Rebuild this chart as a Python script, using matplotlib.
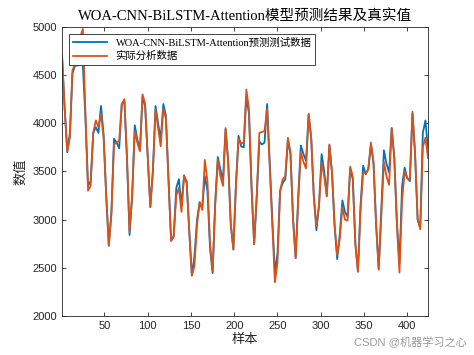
import numpy as np
import matplotlib
matplotlib.use('Agg')
import matplotlib.pyplot as plt

# sample index (every 3rd sample)
sampel = np.arange(1, 425, 3)

aktual = [4700, 4150, 3710, 3850, 4550, 4620, 4640, 4900, 4980, 4100,
          3300, 3350, 3900, 4030, 3960, 4100, 3850, 3250, 2730, 3050,
          3780, 3800, 3820, 4200, 4250, 3650, 2870, 3250, 3920, 3800,
          3710, 4300, 4200, 3650, 3130, 3500, 4140, 3950, 3760, 4150,
          4050, 3400, 2780, 2820, 3250, 3330, 3080, 3450, 3400, 2880,
          2420, 2520, 2950, 3180, 3100, 3620, 3400, 2750, 2460, 3150,
          3620, 3450, 3350, 3950, 3600, 2950, 2690, 3350, 3840, 3790,
          3800, 4350, 4150, 3350, 2745, 3250, 3900, 3910, 3920, 4150,
          3550, 2950, 2350, 2550, 3300, 3420, 3450, 3850, 3700, 3000,
          2600, 3200, 3700, 3600, 3530, 4100, 3850, 3250, 2930, 3150,
          3590, 3450, 3240, 3780, 3500, 2950, 2630, 2800, 3130, 3000,
          2990, 3550, 3450, 2750, 2460, 3100, 3490, 3480, 3520, 3800,
          3600, 2950, 2480, 3050, 3600, 3450, 3360, 3950, 3650, 2950,
          2450, 3200, 3500, 3430, 3420, 4120, 3700, 3000, 2900, 3750,
          3850, 3640]

prediksi = [4680, 4150, 3700, 3900, 4520, 4600, 4600, 4650, 4600, 4050,
            3350, 3400, 3900, 3960, 3900, 4180, 3880, 3250, 2730, 3080,
            3840, 3800, 3740, 4200, 4230, 3630, 2840, 3250, 3980, 3830,
            3725, 4280, 4170, 3650, 3130, 3520, 4180, 4000, 3830, 4200,
            4080, 3420, 2780, 2830, 3330, 3420, 3150, 3460, 3380, 2880,
            2420, 2620, 3000, 3180, 3120, 3450, 3300, 2700, 2445, 3180,
            3650, 3520, 3410, 3940, 3600, 2950, 2690, 3380, 3870, 3760,
            3750, 4280, 4100, 3330, 2745, 3230, 3810, 3780, 3800, 4200,
            3600, 3000, 2450, 2650, 3300, 3380, 3420, 3820, 3680, 3000,
            2600, 3250, 3770, 3680, 3610, 4090, 3840, 3230, 2890, 3150,
            3680, 3500, 3250, 3770, 3480, 2930, 2590, 2850, 3200, 3080,
            3030, 3530, 3420, 2750, 2460, 3150, 3560, 3470, 3530, 3780,
            3580, 2950, 2490, 3100, 3720, 3580, 3490, 3950, 3640, 2980,
            2550, 3350, 3540, 3430, 3400, 4100, 3680, 3000, 2920, 3900,
            4030, 3730]

xticks = [50, 100, 150, 200, 250, 300, 350, 400]
yticks = [2000, 2500, 3000, 3500, 4000, 4500, 5000]

serif_cjk = ['Liberation Serif', 'Noto Sans CJK SC']
sans_cjk = ['Liberation Sans', 'Noto Sans CJK SC']
abu = '#262626'

fig = plt.figure(figsize=(4.74, 3.55), dpi=100)
ax = fig.add_axes([0.131, 0.110, 0.772, 0.814])

ax.plot(sampel, prediksi, color='#0072BD', lw=1.3,
        label='WOA-CNN-BiLSTM-Attention预测测试数据')
ax.plot(sampel, aktual, color='#D95319', lw=1.3, label='实际分析数据')

ax.set_xlim(1, 424)
ax.set_ylim(2000, 5000)
ax.set_xticks(xticks)
ax.set_yticks(yticks)
ax.tick_params(direction='in', top=True, right=True, length=3, width=0.6,
               colors=abu, labelsize=8)
for lbl in ax.get_xticklabels() + ax.get_yticklabels():
    lbl.set_family('Liberation Sans')
for sp in ax.spines.values():
    sp.set_color(abu)
    sp.set_linewidth(0.6)

ax.set_title('WOA-CNN-BiLSTM-Attention模型预测结果及真实值', family=serif_cjk,
             fontsize=10.5, color='black', pad=5)
ax.set_xlabel('样本', family=sans_cjk, fontsize=9.5, color=abu, labelpad=2)
ax.set_ylabel('数值', family=sans_cjk, fontsize=9.5, color=abu, labelpad=4)

leg = ax.legend(loc='upper left', prop={'family': serif_cjk, 'size': 7.5},
                fancybox=False, framealpha=1, edgecolor=abu,
                borderaxespad=0.7, handlelength=3.3, labelspacing=0.3,
                borderpad=0.35)
leg.get_frame().set_linewidth(0.6)

fig.text(0.985, 0.02, 'CSDN @机器学习之心', family=sans_cjk, fontsize=8,
         color='#9a9a9a', ha='right', va='bottom')

fig.savefig('out.png', dpi=100)
